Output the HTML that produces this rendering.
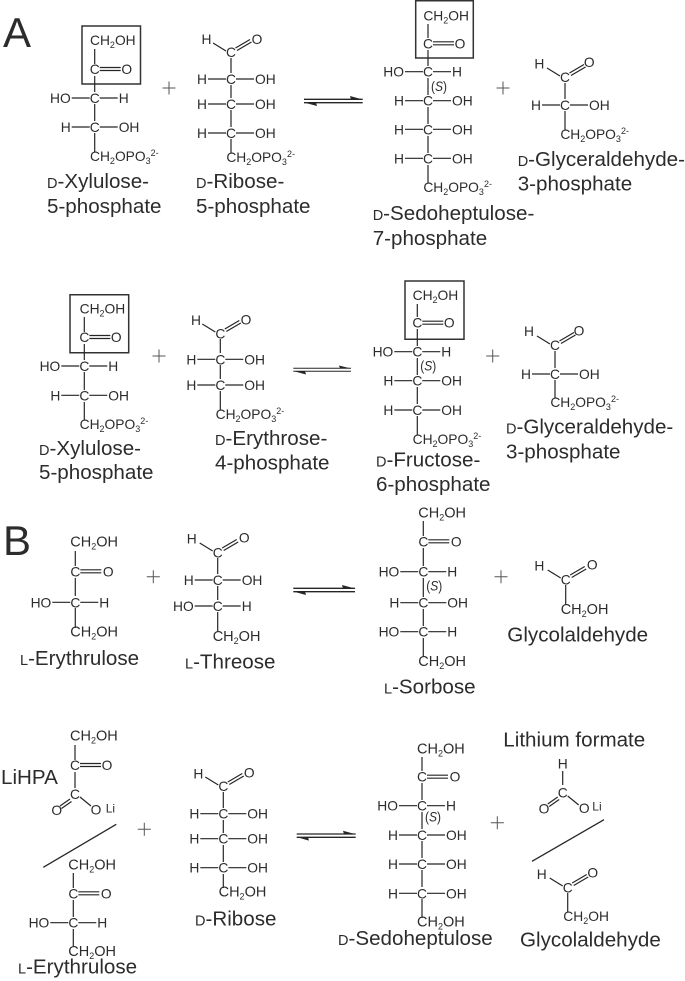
<!DOCTYPE html>
<html><head><meta charset="utf-8"><title>Reactions</title>
<style>
html,body{margin:0;padding:0;background:#fff}
svg{display:block}
text{font-family:"Liberation Sans",sans-serif;font-size:13.8px;fill:#2c2c2c}
.e{text-anchor:end}.m{text-anchor:middle}
.l{font-size:20.6px}.s{font-size:14.5px}.b{font-size:42px}
.i{font-size:14px}.t{font-size:9px}.li{font-size:12px}
path{fill:none;stroke:#262626;stroke-width:1.2}
.p{stroke:#555;stroke-width:1}.x{stroke:#333;stroke-width:1.5}.f{fill:#262626;stroke:none}
</style></head><body>
<svg width="685" height="981" viewBox="0 0 685 981" xmlns="http://www.w3.org/2000/svg">
<text class="b" x="3" y="47">A</text>
<text class="b" x="3" y="555">B</text>

<!-- M1 -->
<path class="x" d="M82 26H140.5V84H82Z"/>
<g transform="translate(94.7,0)"><path d="M0 49V64M0 76V92M0 104V121M0 133V152M-23 98H-5M5 98H23M-23 127H-5M5 127H23M5 67.5H26M5 70.5H26"/>
<text x="-4.7" y="45">CH<tspan class="t" dy="3">2</tspan><tspan dy="-3">OH</tspan></text><text class="m" y="74">C</text><text class="m" x="32" y="74">O</text>
<text class="m" y="103">C</text><text class="e" x="-24" y="103">HO</text><text x="24" y="103">H</text>
<text class="m" y="132">C</text><text class="e" x="-24" y="132">H</text><text x="24" y="132">OH</text>
<text x="-4.7" y="161">CH<tspan class="t" dy="3">2</tspan><tspan dy="-3">OPO</tspan><tspan class="t" dy="3">3</tspan><tspan class="t" dy="-8">2-</tspan></text></g>
<text class="l" x="47" y="188"><tspan class="s">D</tspan>-Xylulose-</text><text class="l" x="47" y="213">5-phosphate</text>
<path class="p" d="M162.500 88H175.500M169 81.500V94.500"/>

<!-- M2 -->
<g transform="translate(231,0)"><path d="M-18 43L-5 51M4.500 48L19 39.500M6 50.500L20.500 42M0 58V73M0 85V98M0 110V127M0 139V153M-23 79H-5M5 79H23M-23 104H-5M5 104H23M-23 133H-5M5 133H23"/>
<text class="m" x="-24.500" y="44">H</text><text class="m" x="26" y="44">O</text><text class="m" y="57">C</text>
<text class="m" y="84">C</text><text class="e" x="-24" y="84">H</text><text x="24" y="84">OH</text>
<text class="m" y="109">C</text><text class="e" x="-24" y="109">H</text><text x="24" y="109">OH</text>
<text class="m" y="138">C</text><text class="e" x="-24" y="138">H</text><text x="24" y="138">OH</text>
<text x="-4.700" y="162">CH<tspan class="t" dy="3">2</tspan><tspan dy="-3">OPO</tspan><tspan class="t" dy="3">3</tspan><tspan class="t" dy="-8">2-</tspan></text></g>
<text class="l" x="196" y="188"><tspan class="s">D</tspan>-Ribose-</text><text class="l" x="196" y="213">5-phosphate</text>

<!-- arrow 1 -->
<path d="M304 99.300H362.700M304 102.700H362.700" style="stroke-width:1.3"/>
<path class="f" d="M362.700 99.500L350 96L351 99.500ZM304 102.500L317 106L316 102.500Z"/>

<!-- M3 -->
<path class="x" d="M415.700 0.700H473.300V58H415.700Z"/>
<g transform="translate(428,0)"><path d="M0 24V38M0 50V66M0 78V95M0 107V124M0 136V153M0 165V183M-23 71.700H-5M5 71.700H23M-23 100.700H-5M5 100.700H23M-23 129.300H-5M5 129.300H23M-23 158.300H-5M5 158.300H23M5 41.800H26M5 44.800H26"/>
<text x="-4.700" y="20.500">CH<tspan class="t" dy="3">2</tspan><tspan dy="-3">OH</tspan></text><text class="m" y="48.300">C</text><text class="m" x="32" y="48.300">O</text>
<text class="m" y="76.700">C</text><text class="e" x="-24" y="76.700">HO</text><text x="24" y="76.700">H</text>
<text class="i" x="3" y="91" textLength="16" lengthAdjust="spacingAndGlyphs">(<tspan font-style="italic">S</tspan>)</text>
<text class="m" y="105.700">C</text><text class="e" x="-24" y="105.700">H</text><text x="24" y="105.700">OH</text>
<text class="m" y="134.300">C</text><text class="e" x="-24" y="134.300">H</text><text x="24" y="134.300">OH</text>
<text class="m" y="163.300">C</text><text class="e" x="-24" y="163.300">H</text><text x="24" y="163.300">OH</text>
<text x="-4.700" y="192">CH<tspan class="t" dy="3">2</tspan><tspan dy="-3">OPO</tspan><tspan class="t" dy="3">3</tspan><tspan class="t" dy="-8">2-</tspan></text></g>
<text class="l" x="372.700" y="220"><tspan class="s">D</tspan>-Sedoheptulose-</text><text class="l" x="372.700" y="245">7-phosphate</text>
<path class="p" d="M496.500 88H509.500M503 81.500V94.500"/>

<!-- M4 -->
<g transform="translate(565,0)"><path d="M-18 68L-5 76M4.500 73L19 64.500M6 75.500L20.500 67M0 83V99M0 111V130M-23 105H-5M5 105H23"/>
<text class="m" x="-25.700" y="68.300">H</text><text class="m" x="24.300" y="67">O</text><text class="m" y="82">C</text>
<text class="m" y="110">C</text><text class="e" x="-24" y="110">H</text><text x="24" y="110">OH</text>
<text x="-4.700" y="139">CH<tspan class="t" dy="3">2</tspan><tspan dy="-3">OPO</tspan><tspan class="t" dy="3">3</tspan><tspan class="t" dy="-8">2-</tspan></text></g>
<text class="l" x="517.700" y="166"><tspan class="s">D</tspan>-Glyceraldehyde-</text><text class="l" x="517.700" y="190.700">3-phosphate</text>

<!-- M5 -->
<path class="x" d="M70 294.700H128.700V352.700H70Z"/>
<g transform="translate(84.300,0)"><path d="M0 317V332M0 344V360M0 372V390M0 402V420M-23 366H-5M5 366H23M-23 395.300H-5M5 395.300H23M5 335.500H26M5 338.500H26"/>
<text x="-4.700" y="313.300">CH<tspan class="t" dy="3">2</tspan><tspan dy="-3">OH</tspan></text><text class="m" y="342">C</text><text class="m" x="32" y="342">O</text>
<text class="m" y="371">C</text><text class="e" x="-24" y="371">HO</text><text x="24" y="371">H</text>
<text class="m" y="400.300">C</text><text class="e" x="-24" y="400.300">H</text><text x="24" y="400.300">OH</text>
<text x="-4.700" y="429">CH<tspan class="t" dy="3">2</tspan><tspan dy="-3">OPO</tspan><tspan class="t" dy="3">3</tspan><tspan class="t" dy="-8">2-</tspan></text></g>
<text class="l" x="39" y="455"><tspan class="s">D</tspan>-Xylulose-</text><text class="l" x="39" y="479">5-phosphate</text>
<path class="p" d="M152.500 356H165.500M159 349.500V362.500"/>

<!-- M6 -->
<g transform="translate(220.300,0)"><path d="M-18 324L-5 332M4.500 329L19 320.500M6 331.500L20.500 323M0 339V353M0 365V379M0 391V410M-23 359.300H-5M5 359.300H23M-23 385H-5M5 385H23"/>
<text class="m" x="-24.300" y="325">H</text><text class="m" x="25.700" y="324.300">O</text><text class="m" y="338.300">C</text>
<text class="m" y="364.300">C</text><text class="e" x="-24" y="364.300">H</text><text x="24" y="364.300">OH</text>
<text class="m" y="390">C</text><text class="e" x="-24" y="390">H</text><text x="24" y="390">OH</text>
<text x="-4.700" y="419">CH<tspan class="t" dy="3">2</tspan><tspan dy="-3">OPO</tspan><tspan class="t" dy="3">3</tspan><tspan class="t" dy="-8">2-</tspan></text></g>
<text class="l" x="215" y="445"><tspan class="s">D</tspan>-Erythrose-</text><text class="l" x="215" y="469.300">4-phosphate</text>

<!-- arrow 2 -->
<path d="M293.300 368.300H351M293.300 371.300H351" style="stroke-width:1"/>
<path class="f" d="M351 368.500L339 365.500L340 368.500ZM293.300 371L306 374.500L305 371Z"/>

<!-- M7 -->
<path class="x" d="M405 281H464V339.300H405Z"/>
<g transform="translate(417.300,0)"><path d="M0 304V317M0 329V346M0 358V375M0 387V404M0 416V435M-23 351.700H-5M5 351.700H23M-23 380.700H-5M5 380.700H23M-23 410H-5M5 410H23M5 321.200H26M5 324.200H26"/>
<text x="-4.700" y="300">CH<tspan class="t" dy="3">2</tspan><tspan dy="-3">OH</tspan></text><text class="m" y="327.700">C</text><text class="m" x="32" y="327.700">O</text>
<text class="m" y="356.700">C</text><text class="e" x="-24" y="356.700">HO</text><text x="24" y="356.700">H</text>
<text class="i" x="3" y="370.500" textLength="16" lengthAdjust="spacingAndGlyphs">(<tspan font-style="italic">S</tspan>)</text>
<text class="m" y="385.700">C</text><text class="e" x="-24" y="385.700">H</text><text x="24" y="385.700">OH</text>
<text class="m" y="415">C</text><text class="e" x="-24" y="415">H</text><text x="24" y="415">OH</text>
<text x="-4.700" y="444">CH<tspan class="t" dy="3">2</tspan><tspan dy="-3">OPO</tspan><tspan class="t" dy="3">3</tspan><tspan class="t" dy="-8">2-</tspan></text></g>
<text class="l" x="376" y="466.700"><tspan class="s">D</tspan>-Fructose-</text><text class="l" x="376" y="491">6-phosphate</text>
<path class="p" d="M486.200 356H499.200M492.700 349.500V362.500"/>

<!-- M8 -->
<g transform="translate(555,0)"><path d="M-18 336L-5 344M4.500 341L19 332.500M6 343.500L20.500 335M0 351V368M0 380V398M-23 374H-5M5 374H23"/>
<text class="m" x="-26" y="336">H</text><text class="m" x="24" y="335.700">O</text><text class="m" y="350">C</text>
<text class="m" y="379">C</text><text class="e" x="-24" y="379">H</text><text x="24" y="379">OH</text>
<text x="-4.700" y="407">CH<tspan class="t" dy="3">2</tspan><tspan dy="-3">OPO</tspan><tspan class="t" dy="3">3</tspan><tspan class="t" dy="-8">2-</tspan></text></g>
<text class="l" x="506" y="433.300"><tspan class="s">D</tspan>-Glyceraldehyde-</text><text class="l" x="506" y="458.300">3-phosphate</text>

<!-- M9 -->
<g transform="translate(75.300,0)"><path d="M0 551V566M0 578V596M0 608V628M-23 602.300H-5M5 602.300H23M5 569.800H26M5 572.800H26"/>
<text x="-5" y="546.700" style="font-size:14.500px">CH<tspan class="t" dy="3">2</tspan><tspan dy="-3">OH</tspan></text><text class="m" y="576.300">C</text><text class="m" x="33" y="576.300">O</text>
<text class="m" y="607.300">C</text><text class="e" x="-24" y="607.300">HO</text><text x="24" y="607.300">H</text>
<text x="-5" y="636.700" style="font-size:14.500px">CH<tspan class="t" dy="3">2</tspan><tspan dy="-3">OH</tspan></text></g>
<text class="l" x="20" y="665"><tspan class="s">L</tspan>-Erythrulose</text>
<path class="p" d="M146.800 576.700H159.800M153.300 570.200V583.200"/>

<!-- M10 -->
<g transform="translate(217.700,0)"><path d="M-18 543L-5 551M4.500 548L19 539.500M6 550.500L20.500 542M0 558V574M0 586V600M0 612V632M-23 580H-5M5 580H23M-23 606H-5M5 606H23"/>
<text class="m" x="-26" y="543.300">H</text><text class="m" x="26.600" y="542.700">O</text><text class="m" y="557.300">C</text>
<text class="m" y="585">C</text><text class="e" x="-24" y="585">H</text><text x="24" y="585">OH</text>
<text class="m" y="611">C</text><text class="e" x="-24" y="611">HO</text><text x="24" y="611">H</text>
<text x="-5" y="641" style="font-size:14.500px">CH<tspan class="t" dy="3">2</tspan><tspan dy="-3">OH</tspan></text></g>
<text class="l" x="185" y="668.300"><tspan class="s">L</tspan>-Threose</text>

<!-- arrow 3 -->
<path d="M293.300 588.300H355M293.300 591.700H355" style="stroke-width:1.3"/>
<path class="f" d="M355 588.500L342 585L343 588.500ZM293.300 591.500L306 595L305 591.500Z"/>

<!-- M11 -->
<g transform="translate(423.300,0)"><path d="M0 521V536M0 548V566M0 578V597M0 609V626M0 638V657M-23 571.700H-5M5 571.700H23M-23 602.700H-5M5 602.700H23M-23 631.700H-5M5 631.700H23M5 539.800H26M5 542.800H26"/>
<text x="-5" y="517.300" style="font-size:14.500px">CH<tspan class="t" dy="3">2</tspan><tspan dy="-3">OH</tspan></text><text class="m" y="546.300">C</text><text class="m" x="33" y="546.300">O</text>
<text class="m" y="576.700">C</text><text class="e" x="-24" y="576.700">HO</text><text x="24" y="576.700">H</text>
<text class="i" x="3" y="590.500" textLength="16" lengthAdjust="spacingAndGlyphs">(<tspan font-style="italic">S</tspan>)</text>
<text class="m" y="607.700">C</text><text class="e" x="-24" y="607.700">H</text><text x="24" y="607.700">OH</text>
<text class="m" y="636.700">C</text><text class="e" x="-24" y="636.700">HO</text><text x="24" y="636.700">H</text>
<text x="-5" y="666" style="font-size:14.500px">CH<tspan class="t" dy="3">2</tspan><tspan dy="-3">OH</tspan></text></g>
<text class="l" x="384" y="693.300"><tspan class="s">L</tspan>-Sorbose</text>
<path class="p" d="M494.500 576.700H507.500M501 570.200V583.200"/>

<!-- M12 -->
<g transform="translate(565.700,0)"><path d="M-18 570L-5 578M4.500 575L19 566.500M6 577.500L20.500 569M0 585V605"/>
<text class="m" x="-26.400" y="570.700">H</text><text class="m" x="26.600" y="569.300">O</text><text class="m" y="584.300">C</text>
<text x="-5" y="614" style="font-size:14.500px">CH<tspan class="t" dy="3">2</tspan><tspan dy="-3">OH</tspan></text></g>
<text class="l" x="507.300" y="641.700">Glycolaldehyde</text>

<!-- M13 -->
<text class="l" x="1" y="784">LiHPA</text>
<g transform="translate(75,0)"><path d="M0 745V760M0 772V788M5 763.500H26M5 766.500H26M-5 799L-15 806M-3.500 801.500L-13.500 808.500M5 797L16 806"/>
<text x="-5" y="740.700" style="font-size:14.500px">CH<tspan class="t" dy="3">2</tspan><tspan dy="-3">OH</tspan></text><text class="m" y="770">C</text><text class="m" x="32" y="770">O</text>
<text class="m" y="799">C</text><text class="m" x="-18.300" y="815">O</text><text class="m" x="21" y="814.300">O</text><text class="li" x="30.700" y="812.700">Li</text></g>
<path d="M43.300 867.300L116.300 824.300" style="stroke-width:1.3"/>

<!-- M14 -->
<g transform="translate(73.300,0)"><path d="M0 873V888M0 900V917M0 929V947M-23 922.700H-5M5 922.700H23M5 891.800H26M5 894.800H26"/>
<text x="-5" y="869.300" style="font-size:14.500px">CH<tspan class="t" dy="3">2</tspan><tspan dy="-3">OH</tspan></text><text class="m" y="898.300">C</text><text class="m" x="33" y="898.300">O</text>
<text class="m" y="927.700">C</text><text class="e" x="-24" y="927.700">HO</text><text x="24" y="927.700">H</text>
<text x="-5" y="956" style="font-size:14.500px">CH<tspan class="t" dy="3">2</tspan><tspan dy="-3">OH</tspan></text></g>
<text class="l" x="18" y="973.300"><tspan class="s">L</tspan>-Erythrulose</text>
<path class="p" d="M137.800 829.300H150.800M144.300 822.800V835.800"/>

<!-- M15 -->
<g transform="translate(223.300,0)"><path d="M-18 777L-5 785M4.500 782L19 773.500M6 784.500L20.500 776M0 792V808M0 820V833M0 845V862M0 874V888M-23 813.700H-5M5 813.700H23M-23 838.700H-5M5 838.700H23M-23 867.700H-5M5 867.700H23"/>
<text class="m" x="-25" y="778.300">H</text><text class="m" x="26" y="777.700">O</text><text class="m" y="791">C</text>
<text class="m" y="818.700">C</text><text class="e" x="-24" y="818.700">H</text><text x="24" y="818.700">OH</text>
<text class="m" y="843.700">C</text><text class="e" x="-24" y="843.700">H</text><text x="24" y="843.700">OH</text>
<text class="m" y="872.700">C</text><text class="e" x="-24" y="872.700">H</text><text x="24" y="872.700">OH</text>
<text x="-4.700" y="896.700" style="font-size:14.500px">CH<tspan class="t" dy="3">2</tspan><tspan dy="-3">OH</tspan></text></g>
<text class="l" x="195" y="925.700"><tspan class="s">D</tspan>-Ribose</text>

<!-- arrow 4 -->
<path d="M296.700 834H355.700M296.700 837.300H355.700" style="stroke-width:1.3"/>
<path class="f" d="M355.700 834.200L343 830.700L344 834.200ZM296.700 837.100L309 840.600L308 837.100Z"/>

<!-- M16 -->
<g transform="translate(422,0)"><path d="M0 757V771M0 783V800M0 812V829M0 841V858M0 870V887M0 899V918M-23 805.700H-5M5 805.700H23M-23 835H-5M5 835H23M-23 864H-5M5 864H23M-23 893.300H-5M5 893.300H23M5 775.200H26M5 778.200H26"/>
<text x="-5" y="753.300" style="font-size:14.500px">CH<tspan class="t" dy="3">2</tspan><tspan dy="-3">OH</tspan></text><text class="m" y="781.700">C</text><text class="m" x="33" y="781.700">O</text>
<text class="m" y="810.700">C</text><text class="e" x="-24" y="810.700">HO</text><text x="24" y="810.700">H</text>
<text class="i" x="3" y="821.500" textLength="16" lengthAdjust="spacingAndGlyphs">(<tspan font-style="italic">S</tspan>)</text>
<text class="m" y="840">C</text><text class="e" x="-24" y="840">H</text><text x="24" y="840">OH</text>
<text class="m" y="869">C</text><text class="e" x="-24" y="869">H</text><text x="24" y="869">OH</text>
<text class="m" y="898.300">C</text><text class="e" x="-24" y="898.300">H</text><text x="24" y="898.300">OH</text>
<text x="-5" y="926.700" style="font-size:14.500px">CH<tspan class="t" dy="3">2</tspan><tspan dy="-3">OH</tspan></text></g>
<text class="l" x="338" y="945"><tspan class="s">D</tspan>-Sedoheptulose</text>
<path class="p" d="M490.800 822.700H503.800M497.300 816.200V829.200"/>

<!-- M17 -->
<text class="l" x="503.300" y="746.700">Lithium formate</text>
<g transform="translate(562.700,0)"><path d="M0 771V785M-5 797L-15 804M-3.500 799.500L-13.500 806.500M5 796L16 805"/>
<text class="m" y="768.300">H</text><text class="m" y="797.300">C</text><text class="m" x="-18.700" y="813.300">O</text><text class="m" x="21.600" y="813">O</text><text class="li" x="29.600" y="810.300">Li</text></g>
<path d="M532 861.300L604 819.700" style="stroke-width:1.3"/>

<!-- M18 -->
<g transform="translate(567.700,0)"><path d="M-18 878L-5 886M4.500 883L19 874.500M6 885.500L20.500 877M0 893V912"/>
<text class="m" x="-26" y="879">H</text><text class="m" x="25" y="877.700">O</text><text class="m" y="892.700">C</text>
<text x="-4.400" y="921">CH<tspan class="t" dy="3">2</tspan><tspan dy="-3">OH</tspan></text></g>
<text class="l" x="520" y="946.700">Glycolaldehyde</text>
</svg>
</body></html>
